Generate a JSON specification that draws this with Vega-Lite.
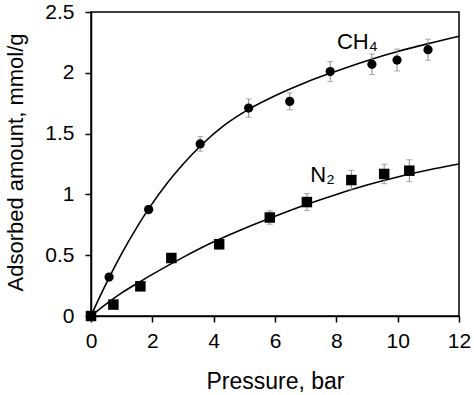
{
  "$schema": "https://vega.github.io/schema/vega-lite/v6.json",
  "width": 368,
  "height": 304,
  "autosize": {"type": "none"},
  "padding": {"left": 91, "top": 12, "right": 15, "bottom": 79},
  "background": "white",
  "config": {
    "view": {"stroke": "#000", "strokeWidth": 1.5},
    "font": "Liberation Sans",
    "axis": {
      "grid": false,
      "domainColor": "#000",
      "domainWidth": 1.5,
      "tickColor": "#000",
      "tickWidth": 1.5,
      "tickSize": 6,
      "labelColor": "#000",
      "labelFont": "Liberation Sans",
      "labelFontSize": 21,
      "labelFlush": false,
      "titleColor": "#000",
      "titleFont": "Liberation Sans",
      "titleFontSize": 22,
      "titleFontWeight": "normal"
    }
  },
  "datasets": {
    "points": [
      {"series": "CH4", "P": 0, "q": 0, "err": 0},
      {"series": "CH4", "P": 0.59, "q": 0.32, "err": 0.02},
      {"series": "CH4", "P": 1.88, "q": 0.875, "err": 0.03},
      {"series": "CH4", "P": 3.56, "q": 1.415, "err": 0.06},
      {"series": "CH4", "P": 5.14, "q": 1.71, "err": 0.075},
      {"series": "CH4", "P": 6.48, "q": 1.765, "err": 0.07},
      {"series": "CH4", "P": 7.8, "q": 2.01, "err": 0.082},
      {"series": "CH4", "P": 9.16, "q": 2.07, "err": 0.085},
      {"series": "CH4", "P": 9.98, "q": 2.105, "err": 0.09},
      {"series": "CH4", "P": 10.99, "q": 2.19, "err": 0.087},
      {"series": "N2", "P": 0, "q": 0, "err": 0},
      {"series": "N2", "P": 0.73, "q": 0.094, "err": 0.02},
      {"series": "N2", "P": 1.61, "q": 0.244, "err": 0.02},
      {"series": "N2", "P": 2.62, "q": 0.477, "err": 0.03},
      {"series": "N2", "P": 4.18, "q": 0.59, "err": 0.04},
      {"series": "N2", "P": 5.83, "q": 0.81, "err": 0.055},
      {"series": "N2", "P": 7.04, "q": 0.937, "err": 0.07},
      {"series": "N2", "P": 8.49, "q": 1.118, "err": 0.08},
      {"series": "N2", "P": 9.56, "q": 1.168, "err": 0.08},
      {"series": "N2", "P": 10.38, "q": 1.195, "err": 0.09}
    ],
    "curves": [
      {"series": "CH4", "P": 0, "q": 0},
      {"series": "CH4", "P": 0.3, "q": 0.165},
      {"series": "CH4", "P": 0.6, "q": 0.32},
      {"series": "CH4", "P": 1.0, "q": 0.513},
      {"series": "CH4", "P": 1.5, "q": 0.731},
      {"series": "CH4", "P": 1.9, "q": 0.889},
      {"series": "CH4", "P": 2.5, "q": 1.098},
      {"series": "CH4", "P": 3.0, "q": 1.248},
      {"series": "CH4", "P": 3.56, "q": 1.396},
      {"series": "CH4", "P": 4.35, "q": 1.569},
      {"series": "CH4", "P": 5.14, "q": 1.699},
      {"series": "CH4", "P": 6.0, "q": 1.811},
      {"series": "CH4", "P": 6.47, "q": 1.865},
      {"series": "CH4", "P": 7.0, "q": 1.921},
      {"series": "CH4", "P": 7.8, "q": 1.996},
      {"series": "CH4", "P": 9.0, "q": 2.10},
      {"series": "CH4", "P": 10.0, "q": 2.175},
      {"series": "CH4", "P": 11.0, "q": 2.24},
      {"series": "CH4", "P": 12.0, "q": 2.30},
      {"series": "N2", "P": 0, "q": 0},
      {"series": "N2", "P": 0.5, "q": 0.1},
      {"series": "N2", "P": 1.0, "q": 0.19},
      {"series": "N2", "P": 1.5, "q": 0.267},
      {"series": "N2", "P": 2.0, "q": 0.342},
      {"series": "N2", "P": 3.0, "q": 0.482},
      {"series": "N2", "P": 4.0, "q": 0.61},
      {"series": "N2", "P": 5.0, "q": 0.72},
      {"series": "N2", "P": 6.0, "q": 0.82},
      {"series": "N2", "P": 7.0, "q": 0.915},
      {"series": "N2", "P": 8.0, "q": 1.0},
      {"series": "N2", "P": 9.0, "q": 1.077},
      {"series": "N2", "P": 10.0, "q": 1.143},
      {"series": "N2", "P": 11.0, "q": 1.2},
      {"series": "N2", "P": 12.0, "q": 1.25}
    ],
    "labels": [
      {"label": "CH₄", "P": 8.02, "q": 2.197},
      {"label": "N₂", "P": 7.15, "q": 1.10}
    ]
  },
  "encoding": {
    "x": {
      "field": "P",
      "type": "quantitative",
      "scale": {"domain": [0, 12], "nice": false},
      "axis": {
        "title": "Pressure, bar",
        "values": [0, 2, 4, 6, 8, 10, 12],
        "labelPadding": 8,
        "titleFontSize": 23,
        "titleY": 72,
        "titleBaseline": "alphabetic"
      }
    },
    "y": {
      "field": "q",
      "type": "quantitative",
      "scale": {"domain": [0, 2.5], "nice": false},
      "axis": {
        "title": "Adsorbed amount, mmol/g",
        "values": [0, 0.5, 1, 1.5, 2, 2.5],
        "format": "~g",
        "labelPadding": 11,
        "titleX": -69,
        "titleY": 150,
        "titleBaseline": "alphabetic"
      }
    }
  },
  "layer": [
    {
      "data": {"name": "curves"},
      "mark": {"type": "line", "color": "#000", "strokeWidth": 1.6, "interpolate": "monotone"},
      "encoding": {"detail": {"field": "series"}}
    },
    {
      "data": {"name": "points"},
      "mark": {
        "type": "errorbar",
        "ticks": {"size": 6, "color": "#888", "strokeWidth": 1},
        "rule": {"color": "#888", "strokeWidth": 1}
      },
      "encoding": {
        "yError": {"field": "err"},
        "detail": {"field": "series"}
      }
    },
    {
      "data": {"name": "points"},
      "mark": {"type": "point", "filled": true, "opacity": 1, "color": "#000"},
      "encoding": {
        "shape": {"field": "series", "type": "nominal", "scale": {"domain": ["CH4", "N2"], "range": ["circle", "square"]}, "legend": null},
        "size": {"field": "series", "type": "nominal", "scale": {"domain": ["CH4", "N2"], "range": [85, 110]}, "legend": null}
      }
    },
    {
      "data": {"name": "labels"},
      "mark": {"type": "text", "align": "left", "baseline": "alphabetic", "fontSize": 22, "font": "Liberation Sans", "color": "#000"},
      "encoding": {"text": {"field": "label"}}
    }
  ]
}
